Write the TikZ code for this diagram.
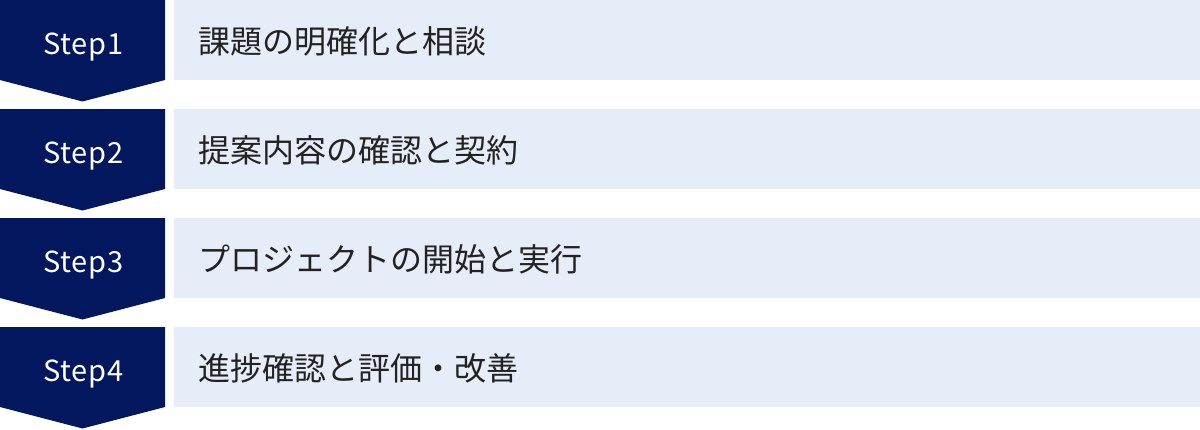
\documentclass[tikz,border=0pt]{standalone}
\usepackage{fontspec}
\newfontfamily\jp{Noto Sans CJK JP}
\definecolor{navy}{HTML}{03175F}
\definecolor{pale}{HTML}{E6ECF8}
\definecolor{ink}{HTML}{222222}
\tikzset{
  steptag/.style={fill=navy,draw=none},
  steplabel/.style={text=white,font=\jp\fontsize{29}{34}\selectfont,anchor=base,inner sep=0pt},
  bar/.style={fill=pale,draw=none},
  barlabel/.style={text=ink,font=\jp\fontsize{32}{38}\selectfont,anchor=west}
}
\begin{document}
\begin{tikzpicture}[x=1pt,y=-1pt]
\useasboundingbox (0,0) rectangle (1200,429);
\foreach \i/\t in {0/課題の明確化と相談,1/提案内容の確認と契約,2/プロジェクトの開始と実行,3/進捗確認と評価・改善}{
  \pgfmathsetmacro{\y}{\i*109}
  \fill[steptag] (0,\y) -- (165,\y) -- (165,\y+80) -- (82.5,\y+101.5) -- (0,\y+80) -- cycle;
  \node[steplabel] (s\i) at (83.5,\y+54) {\addfontfeatures{LetterSpace=3}Step\the\numexpr\i+1\relax};
  \fill[bar] (174,\y) rectangle (1200,\y+80);
  \node[barlabel] (b\i) at (195,\y+41) {\t};
}
\end{tikzpicture}
\end{document}
